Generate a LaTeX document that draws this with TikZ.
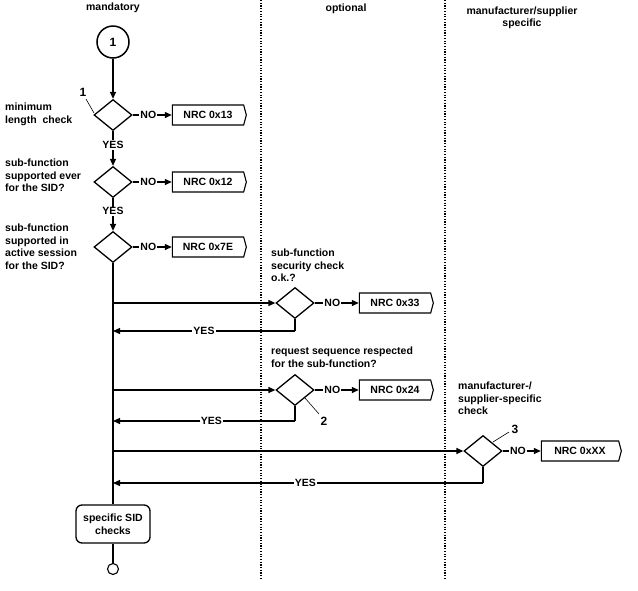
\documentclass[tikz,border=0pt]{standalone}
\usepackage{fontspec}
\setmainfont{Liberation Sans}
\usetikzlibrary{shapes.geometric,shapes.symbols,arrows.meta}
\begin{document}
\begin{tikzpicture}[x=1pt,y=-1pt,
  txt/.style={font=\bfseries\fontsize{10.5}{12.5}\selectfont,inner sep=0pt},
  lbl/.style={txt,align=left,anchor=north west},
  dec/.style={draw,line width=1.3pt,diamond,aspect=1.25,minimum width=38,minimum height=31,inner sep=0pt},
  nrc/.style={draw,line width=1.1pt,signal,signal to=east,signal pointer angle=150,minimum width=74,minimum height=20,txt,inner sep=2pt},
  ar/.style={line width=1.3pt,-{Triangle[length=7pt,width=6pt]}},
  ln/.style={line width=1.3pt},
  sep/.style={line width=1.1pt,dash pattern=on 1.2pt off 1.5pt}]
\useasboundingbox (0,0) rectangle (638,590);
\fill[white] (0,0) rectangle (638,590);
% headings
\node[txt] (h1) at (113,8) {mandatory};
\node[txt] (h2) at (346,9) {optional};
\node[txt,align=center] (h3) at (522,18) {manufacturer/supplier\\specific};
\coordinate (s1t) at (261,0); \coordinate (s1b) at (261,580);
\coordinate (s2t) at (445,0); \coordinate (s2b) at (445,580);
\draw[sep] (s1t) -- (s1b);
\draw[sep] (s2t) -- (s2b);
% start
\node[draw,circle,line width=1.5pt,minimum size=32,txt,font=\bfseries\fontsize{12}{14}\selectfont] (start) at (113,42) {1};
\node[dec] (d1) at (113,115) {};
\node[dec] (d2) at (113,182) {};
\node[dec] (d3) at (113,247) {};
\node[nrc] (n1) at (208,115) {NRC 0x13};
\node[nrc] (n2) at (208,182) {NRC 0x12};
\node[nrc] (n3) at (208,247) {NRC 0x7E};
\draw[ar] (start) -- (d1.north);
\draw[ar] (d1.south) -- node[txt,fill=white,inner sep=1pt,pos=0.4]{YES} (d2.north);
\draw[ar] (d2.south) -- node[txt,fill=white,inner sep=1pt,pos=0.4]{YES} (d3.north);
\foreach \d/\n in {d1/n1,d2/n2,d3/n3}
  \draw[ar] (\d.east) -- node[txt,fill=white,inner sep=1pt,pos=0.4]{NO} (\n.west);
\node[lbl] (l1) at (5,103) {minimum\\length\ \ check};
\node[lbl] (l2) at (5,159) {sub-function\\supported ever\\for the SID?};
\node[lbl] (l3) at (5,224) {sub-function\\supported in\\active session\\for the SID?};
\node[txt,font=\bfseries\fontsize{12}{14}\selectfont] (k1) at (83,92) {1};
\coordinate (k1e) at (94,113);
\draw[line width=0.6pt] (86,99) -- (k1e);
% final
\node[draw,rounded corners=6pt,line width=1.3pt,minimum width=74,minimum height=38,txt,align=center] (sid) at (113,524) {specific SID\\checks};
\node[draw,circle,line width=1.1pt,minimum size=11,inner sep=0pt] (end) at (113,569) {};
\draw[ln] (d3.south) -- (sid.north);
\draw[ln] (sid.south) -- (end.north);
% optional branch 1
\node[dec] (d4) at (295,303) {};
\node[nrc] (n4) at (395,303) {NRC 0x33};
\coordinate (b4) at (113,303);
\draw[ar] (b4) -- (d4.west);
\draw[ar] (d4.east) -- node[txt,fill=white,inner sep=1pt,pos=0.4]{NO} (n4.west);
\coordinate (r4) at (295,331); \coordinate (m4) at (113,331);
\draw[ln] (d4.south) -- (r4);
\draw[ar] (r4) -- node[txt,fill=white,inner sep=1pt,pos=0.5]{YES} (m4);
\node[lbl] (l4) at (271,249) {sub-function\\security check\\o.k.?};
% optional branch 2
\node[dec] (d5) at (295,390) {};
\node[nrc] (n5) at (395,390) {NRC 0x24};
\coordinate (b5) at (113,390);
\draw[ar] (b5) -- (d5.west);
\draw[ar] (d5.east) -- node[txt,fill=white,inner sep=1pt,pos=0.4]{NO} (n5.west);
\coordinate (r5) at (295,421); \coordinate (m5) at (113,421);
\draw[ln] (d5.south) -- (r5);
\draw[ar] (r5) -- node[txt,fill=white,inner sep=1pt,pos=0.46]{YES} (m5);
\node[lbl] (l5) at (271,347) {request sequence respected\\for the sub-function?};
\node[txt,font=\bfseries\fontsize{12}{14}\selectfont] (k2) at (324,421) {2};
\draw[line width=0.6pt] (305,398) -- (319,414);
% supplier branch
\node[dec] (d6) at (483,451) {};
\node[nrc,minimum width=80] (n6) at (580,451) {NRC 0xXX};
\coordinate (b6) at (113,451);
\draw[ar] (b6) -- (d6.west);
\draw[ar] (d6.east) -- node[txt,fill=white,inner sep=1pt,pos=0.4]{NO} (n6.west);
\coordinate (r6) at (483,483); \coordinate (m6) at (113,483);
\draw[ln] (d6.south) -- (r6);
\draw[ar] (r6) -- node[txt,fill=white,inner sep=1pt,pos=0.48]{YES} (m6);
\node[lbl] (l6) at (458,382) {manufacturer-/\\supplier-specific\\check};
\node[txt,font=\bfseries\fontsize{12}{14}\selectfont] (k3) at (515,429) {3};
\draw[line width=0.6pt] (493,442) -- (509,432);
\end{tikzpicture}
\end{document}
